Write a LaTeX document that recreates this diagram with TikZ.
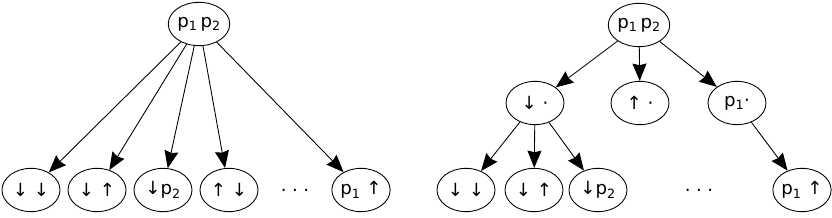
\documentclass[tikz,border=0pt]{standalone}
\usepackage{fontspec}
\setmainfont{DejaVu Sans}
\usetikzlibrary{shapes.geometric}
\usetikzlibrary{arrows.meta}

\newcommand{\pp}[1]{p\textsubscript{#1}}
\newcommand{\skipdots}{.\hspace{0.3em}.\hspace{0.3em}.}

\begin{document}
\begin{tikzpicture}[x=0.03cm, y=-0.03cm,
    every node/.style={font=\fontsize{15.5}{18}\selectfont},
    state/.style={ellipse, draw, line width=0.75pt, minimum width=1.74cm, minimum height=1.3cm, inner sep=0pt},
    edge/.style={line width=0.75pt, -{Stealth[length=5.2mm, width=4.2mm, inset=0.5mm]}}]

        \useasboundingbox (0,0) rectangle (832,217);

        % left tree
        \node[state] (r1) at (199,24) {\pp{1}\,\pp{2}};

        \node[state] (a1) at (31,190) {↓ ↓};
        \node[state] (a2) at (97,190) {↓ ↑};
        \node[state] (a3) at (163,190) {↓\pp{2}};
        \node[state] (a4) at (229,190) {↑ ↓};
        \node (ad) at (295,190) {\skipdots};
        \node[state] (a5) at (361,190) {\pp{1} ↑};

        \foreach \j in {1,...,5} {
          \draw[edge] (r1) -- (a\j);
        }

        % right tree
        \node[state] (r2) at (639,25) {\pp{1}\,\pp{2}};

        \node[state] (m1) at (535,103) {↓ ·};
        \node[state] (m2) at (640,103) {↑ ·};
        \node[state] (m3) at (737,103) {\pp{1}·};

        \node[state] (c1) at (466,190) {↓ ↓};
        \node[state] (c2) at (534,190) {↓ ↑};
        \node[state] (c3) at (598,190) {↓\pp{2}};
        \node (cd) at (699,190) {\skipdots};
        \node[state] (c4) at (802,190) {\pp{1} ↑};

        \foreach \j in {1,...,3} {
          \draw[edge] (r2) -- (m\j);
          \draw[edge] (m1) -- (c\j);
        }
        \draw[edge] (m3) -- (c4);

      \end{tikzpicture}
\end{document}
